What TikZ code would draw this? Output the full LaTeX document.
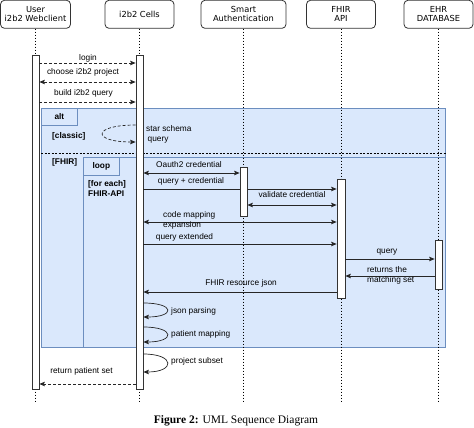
\documentclass[tikz,border=0pt]{standalone}
\usepackage{fontspec}
\setmainfont{Liberation Sans}
\newfontfamily\headfont{DejaVu Sans}
\newfontfamily\capfont{Liberation Serif}
\usetikzlibrary{arrows.meta}
\definecolor{frfill}{HTML}{DAE8FC}
\definecolor{frdraw}{HTML}{6C8EBF}
\begin{document}
\begin{tikzpicture}[x=1pt,y=-1pt,
 head/.style={draw=black!80, line width=0.8pt, rounded corners=4pt, fill=white, inner sep=0pt,
   font=\headfont\fontsize{8.3}{9}\selectfont, align=center, minimum height=28pt},
 bar/.style={draw=black!80, fill=white, line width=0.7pt, inner sep=0pt, minimum width=7pt, anchor=north},
 life/.style={draw=black, line width=0.7pt, dash pattern=on 1.5pt off 1.5pt},
 tip/.tip={Stealth[length=5.5pt,width=4.5pt,inset=1pt]},
 msg/.style={draw=black!85, line width=0.7pt, -tip},
 dmsg/.style={draw=black!85, line width=0.7pt, tip-tip},
 ret/.style={dash pattern=on 3pt off 2pt},
 lbl/.style={font=\fontsize{8.3}{10}\selectfont, inner sep=0pt},
 blbl/.style={font=\bfseries\fontsize{8.3}{10}\selectfont, inner sep=0pt},
 fr/.style={fill=frfill, draw=frdraw, line width=0.7pt, inner sep=0pt, anchor=north west},
]
\useasboundingbox (0,0) rectangle (474,428);

% heads
\node[head, minimum width=70pt] (hU) at (35.5,14.3) {User\\i2b2 Webclient};
\node[head, minimum width=69pt] (hC) at (139.5,14.3) {i2b2 Cells};
\node[head, minimum width=85pt] (hS) at (243.5,14.3) {Smart\\Authentication};
\node[head, minimum width=69pt] (hF) at (341,14.3) {FHIR\\API};
\node[head, minimum width=69pt] (hE) at (438.5,14.3) {EHR\\DATABASE};

% frames
\node[fr, minimum width=404pt, minimum height=239pt] (alt) at (41,108) {};
\node[fr, minimum width=36pt, minimum height=17pt] (altTab) at (alt.north west) {};
\node[blbl] (altLbl) at (altTab.center) {alt};
\coordinate (ySep) at (0,153);
\draw[life, dash pattern=on 2pt off 1.5pt] (alt.west |- ySep) -- (alt.east |- ySep);
\node[fr, minimum width=362pt, minimum height=190pt] (loop) at (83,157) {};
\node[fr, minimum width=36pt, minimum height=18pt] (loopTab) at (loop.north west) {};
\node[blbl] (loopLbl) at (loopTab.center) {loop};
\node[blbl, anchor=west] (classic) at (52,136) {[classic]};
\node[blbl, anchor=west] (fhir) at (52,162) {[FHIR]};
\node[blbl, anchor=west, align=left] (foreach) at (88,188) {[for each]\\FHIR-API};

% lifelines
\coordinate (endU) at (35.5,402);
\coordinate (endC) at (139.5,402);
\coordinate (endS) at (243.5,402);
\coordinate (endF) at (341,402);
\coordinate (endE) at (438.5,402);
\draw[life] (hU.south) -- (endU);
\draw[life] (hC.south) -- (endC);
\draw[life] (hS.south) -- (endS);
\draw[life] (hF.south) -- (endF);
\draw[life] (hE.south) -- (endE);

% activation bars (positions)
\node[bar, minimum height=334pt] (barU) at (35.5,55) {};
\node[bar, minimum height=334pt] (barC) at (139.5,55) {};

% message levels
\coordinate (y1) at (0,63);
\coordinate (y2) at (0,82);
\coordinate (y3) at (0,102);
\coordinate (yS1) at (0,125);
\coordinate (yS2) at (0,142);
\coordinate (y4) at (0,173);
\coordinate (y5) at (0,189);
\coordinate (y6) at (0,205);
\coordinate (y7) at (0,222);
\coordinate (y8) at (0,244);
\coordinate (y9) at (0,259);
\coordinate (y10) at (0,276);
\coordinate (y11) at (0,292);
\coordinate (yJ1) at (0,303);
\coordinate (yJ2) at (0,317);
\coordinate (yP1) at (0,327);
\coordinate (yP2) at (0,342);
\coordinate (yQ1) at (0,354);
\coordinate (yQ2) at (0,372);
\coordinate (y12) at (0,384);

% the short bars need placement before messages
\node[bar, minimum height=49pt] (barS) at (243.5,167) {};
\node[bar, minimum height=119pt, minimum width=8pt] (barF) at (341,179) {};
\node[bar, minimum height=49pt] (barE) at (438.5,240) {};

% messages
\draw[msg, ret] (barU.east |- y1) -- (barC.west |- y1);
\node[lbl] (lLogin) at (88,58) {login};
\draw[dmsg, ret] (barU.east |- y2) -- (barC.west |- y2);
\node[lbl] (lChoose) at (83,72) {choose i2b2 project};
\draw[msg, ret] (barU.east |- y3) -- (barC.west |- y3);
\node[lbl] (lBuild) at (83.5,93) {build i2b2 query};

\draw[msg, ret] (barC.west |- yS1) .. controls +(-44,0) and +(-44,0) .. (barC.west |- yS2);
\node[lbl, anchor=north west, align=left] (lStar) at (146,125.5) {star schema\\\hspace{1.5pt}query};

\draw[dmsg] (barC.east |- y4) -- (barS.west |- y4);
\node[lbl] (lOauth) at (189,165) {Oauth2 credential};
\draw[msg] (barC.east |- y5) -- (barF.west |- y5);
\node[lbl] (lQc) at (191,181) {query + credential};
\draw[dmsg] (barS.east |- y6) -- (barF.west |- y6);
\node[lbl] (lVal) at (292,195) {validate credential};
\draw[dmsg] (barC.east |- y7) -- (barF.west |- y7);
\node[lbl, anchor=west, align=left] (lCode) at (163,220) {code mapping\\expansion};
\draw[msg] (barC.east |- y8) -- (barF.west |- y8);
\node[lbl] (lExt) at (184.5,237) {query extended};
\draw[msg] (barF.east |- y9) -- (barE.west |- y9);
\node[lbl] (lQuery) at (387,252) {query};
\draw[msg] (barE.west |- y10) -- (barF.east |- y10);
\node[lbl, anchor=west, align=left] (lRet) at (367,275) {returns the\\matching set};
\draw[msg] (barF.west |- y11) -- (barC.east |- y11);
\node[lbl] (lJson) at (241,283) {FHIR resource json};

\draw[msg] (barC.east |- yJ1) .. controls +(32,0) and +(32,0) .. (barC.east |- yJ2);
\node[lbl, anchor=west] (lParse) at (171,311) {json parsing};
\draw[msg] (barC.east |- yP1) .. controls +(32,0) and +(32,0) .. (barC.east |- yP2);
\node[lbl, anchor=west] (lMap) at (171,334) {patient mapping};
\draw[msg] (barC.east |- yQ1) .. controls +(32,0) and +(32,0) .. (barC.east |- yQ2);
\node[lbl, anchor=west] (lSub) at (171,361) {project subset};
\draw[msg, ret] (barC.west |- y12) -- (barU.east |- y12);
\node[lbl] (lRetP) at (81.5,371) {return patient set};

% redraw bars on top of crossing lines
\node[bar, minimum height=49pt] at (243.5,167) {};

% caption
\node[font=\capfont\fontsize{11.5}{13}\selectfont, inner sep=0pt] (cap) at (236,421) {\textbf{Figure 2:} UML Sequence Diagram};
\end{tikzpicture}
\end{document}
